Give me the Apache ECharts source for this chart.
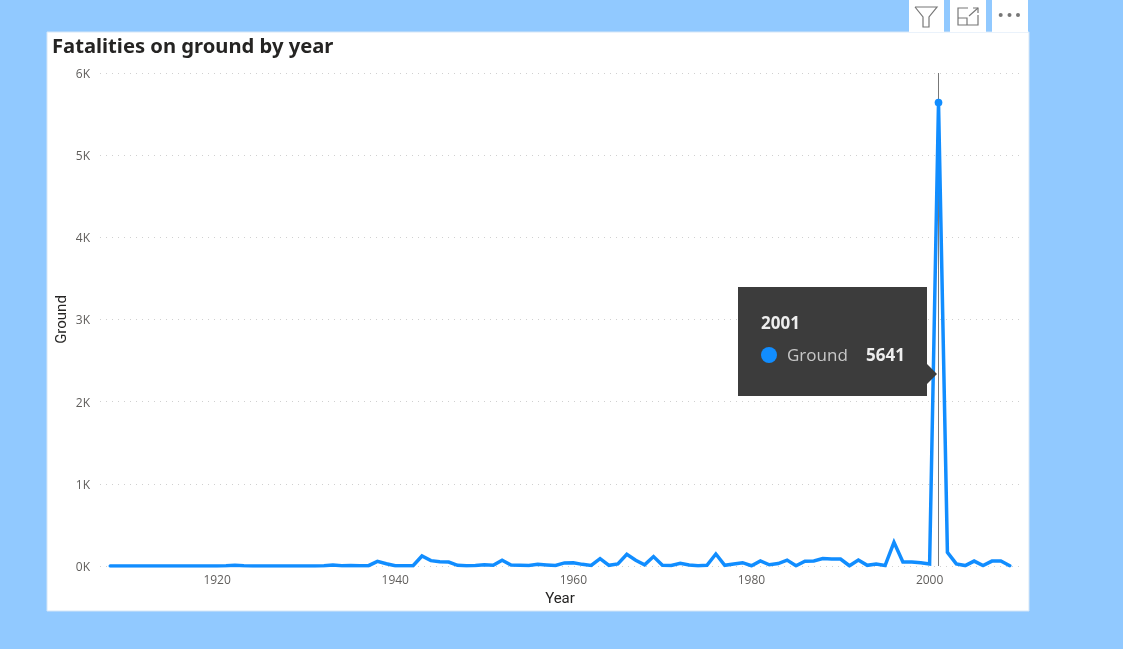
<!DOCTYPE html>
<html>
<head>
<meta charset="utf-8">
<title>Fatalities on ground by year</title>
<style>
  html, body { margin: 0; padding: 0; background: #91c9ff; overflow: hidden; }
  #main { width: 1123px; height: 649px; }
</style>
<script src="https://cdn.jsdelivr.net/npm/echarts@6/dist/echarts.min.js"></script>
</head>
<body>
<div id="main"></div>
<script>
var years = [
  1908, 1909, 1910, 1911, 1912, 1913, 1914, 1915, 1916, 1917, 1918, 1919,
  1920, 1921, 1922, 1923, 1924, 1925, 1926, 1927, 1928, 1929,
  1930, 1931, 1932, 1933, 1934, 1935, 1936, 1937, 1938, 1939,
  1940, 1941, 1942, 1943, 1944, 1945, 1946, 1947, 1948, 1949,
  1950, 1951, 1952, 1953, 1954, 1955, 1956, 1957, 1958, 1959,
  1960, 1961, 1962, 1963, 1964, 1965, 1966, 1967, 1968, 1969,
  1970, 1971, 1972, 1973, 1974, 1975, 1976, 1977, 1978, 1979,
  1980, 1981, 1982, 1983, 1984, 1985, 1986, 1987, 1988, 1989,
  1990, 1991, 1992, 1993, 1994, 1995, 1996, 1997, 1998, 1999,
  2000, 2001, 2002, 2003, 2004, 2005, 2006, 2007, 2008, 2009
];
var ground = [
  1, 0, 1, 0, 0, 1, 0, 1, 0, 0, 1, 0,
  1, 2, 8, 3, 1, 1, 0, 1, 1, 0,
  1, 1, 2, 12, 3, 5, 3, 4, 57, 28,
  3, 3, 3, 122, 65, 52, 48, 8, 4, 5,
  14, 8, 70, 12, 10, 6, 20, 12, 6, 38,
  40, 20, 6, 90, 8, 25, 142, 70, 15, 115,
  10, 6, 32, 12, 4, 8, 146, 8, 25, 40,
  3, 62, 15, 30, 72, 3, 58, 62, 90, 85,
  85, 3, 72, 8, 25, 5, 288, 50, 50, 40,
  25, 5641, 165, 25, 5, 60, 5, 60, 62, 3
];
var yearTicks = [1920, 1940, 1960, 1980, 2000];
var selectedYear = 2001;
var seriesName = 'Ground';

var chart = echarts.init(document.getElementById('main'), null, { renderer: 'canvas' });

var points = years.map(function (y, i) {
  return [y, ground[i]];
});

function tooltipHtml() {
  var value = ground[years.indexOf(selectedYear)];
  return '<div style="position:relative;width:189px;height:109px;background:#3c3c3c;font-family:\'Open Sans\',sans-serif;">' +
    '<div style="position:absolute;left:23px;top:24px;font-size:17px;line-height:24px;font-weight:700;color:#eee;">' + selectedYear + '</div>' +
    '<div style="position:absolute;left:23px;top:60px;width:16px;height:16px;border-radius:50%;background:#118dff;"></div>' +
    '<div style="position:absolute;left:49px;top:56px;font-size:17px;line-height:24px;color:#c8c8c8;">' + seriesName + '</div>' +
    '<div style="position:absolute;left:128px;top:56px;font-size:17px;line-height:24px;font-weight:700;color:#eee;">' + value + '</div>' +
    // little arrow pointing at the hovered year
    '<div style="position:absolute;left:189px;top:77px;width:0;height:0;border-top:10px solid transparent;border-bottom:10px solid transparent;border-left:10px solid #3c3c3c;"></div>' +
    '</div>';
}

var option = {
  animation: false,
  backgroundColor: '#91c9ff',
  // card and visual header buttons
  graphic: [
    { type: 'rect', z: -10, shape: { x: 47, y: 32, width: 982, height: 579 }, style: { fill: '#fff', stroke: '#d5e6f7', lineWidth: 1 } },
    { type: 'rect', z: -10, shape: { x: 909, y: 0, width: 35, height: 32 }, style: { fill: '#fff' } },
    { type: 'rect', z: -10, shape: { x: 950, y: 0, width: 36, height: 32 }, style: { fill: '#fff' } },
    { type: 'rect', z: -10, shape: { x: 992, y: 0, width: 36, height: 32 }, style: { fill: '#fff' } },
    { type: 'polyline', shape: { points: [[915, 7], [937, 7], [929, 17], [929, 27], [923, 27], [923, 17], [915, 7]] }, style: { fill: 'none', stroke: '#777', lineWidth: 1.2 } },
    { type: 'polyline', shape: { points: [[968, 8], [958, 8], [958, 25], [978, 25], [978, 15]] }, style: { fill: 'none', stroke: '#777', lineWidth: 1.2 } },
    { type: 'polyline', shape: { points: [[958, 18], [967, 18], [967, 25]] }, style: { fill: 'none', stroke: '#777', lineWidth: 1.2 } },
    { type: 'polyline', shape: { points: [[969, 16], [978, 8]] }, style: { fill: 'none', stroke: '#777', lineWidth: 1.2 } },
    { type: 'polyline', shape: { points: [[973, 8], [978, 8], [978, 13]] }, style: { fill: 'none', stroke: '#777', lineWidth: 1.2 } },
    { type: 'circle', shape: { cx: 1000.7, cy: 15, r: 2 }, style: { fill: '#777' } },
    { type: 'circle', shape: { cx: 1009.5, cy: 15, r: 2 }, style: { fill: '#777' } },
    { type: 'circle', shape: { cx: 1018, cy: 15, r: 2 }, style: { fill: '#777' } }
  ],
  title: {
    text: 'Fatalities on ground by year',
    left: 52,
    top: 37,
    padding: 0,
    textStyle: { fontFamily: 'Noto Sans', fontSize: 20.2, fontWeight: 700, color: '#252423' }
  },
  grid: { left: 100, right: 103, top: 73, bottom: 83 },
  tooltip: {
    trigger: 'axis',
    alwaysShowContent: true,
    transitionDuration: 0,
    padding: 0,
    borderWidth: 0,
    backgroundColor: 'transparent',
    extraCssText: 'box-shadow:none;',
    position: [738, 287],
    formatter: tooltipHtml,
    axisPointer: { type: 'line', animation: false, z: 1, lineStyle: { color: '#777', width: 1, type: 'solid' } }
  },
  xAxis: {
    type: 'value',
    min: 1906.85,
    max: 2010.15,
    name: 'Year',
    nameLocation: 'middle',
    nameGap: 25,
    nameTextStyle: { fontFamily: 'Roboto', fontSize: 15, color: '#252423' },
    axisLine: { show: false },
    axisTick: { show: false },
    splitLine: { show: false },
    axisLabel: {
      customValues: yearTicks,
      margin: 9,
      fontFamily: 'Open Sans',
      fontSize: 12,
      color: '#605e5c',
      formatter: function (v) { return String(v); }
    }
  },
  yAxis: {
    type: 'value',
    min: 0,
    max: 6000,
    interval: 1000,
    name: 'Ground',
    nameLocation: 'middle',
    nameGap: 30,
    nameMoveOverlap: false,
    nameTextStyle: { fontFamily: 'Roboto', fontSize: 15, color: '#252423' },
    axisLine: { show: false },
    axisTick: { show: false },
    splitLine: { show: true, lineStyle: { color: '#d0d0d0', width: 1, type: [1, 5] } },
    axisLabel: {
      margin: 10,
      verticalAlign: 'top',
      lineHeight: 3,
      fontFamily: 'Open Sans',
      fontSize: 12,
      color: '#605e5c',
      formatter: function (v) { return (v / 1000) + 'K'; }
    }
  },
  series: [{
    type: 'line',
    name: seriesName,
    data: points,
    z: 3,
    showAllSymbol: true,
    symbol: 'circle',
    symbolSize: function (v) { return v[0] === selectedYear ? 7 : 0; },
    itemStyle: { color: '#118dff' },
    lineStyle: { color: '#118dff', width: 3.5, join: 'miter', cap: 'round' },
    emphasis: { disabled: true }
  }]
};

chart.setOption(option);
chart.dispatchAction({ type: 'showTip', seriesIndex: 0, dataIndex: years.indexOf(selectedYear) });
</script>
</body>
</html>
